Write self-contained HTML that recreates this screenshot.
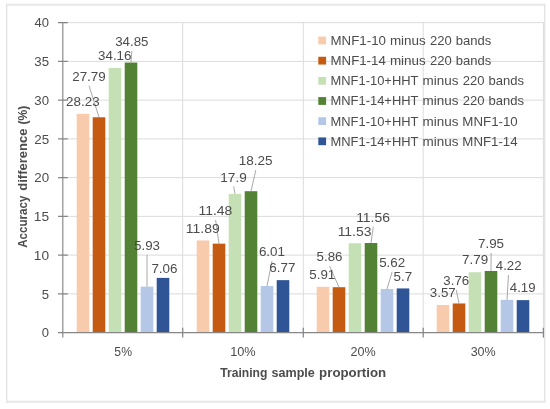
<!DOCTYPE html>
<html><head><meta charset="utf-8"><title>Accuracy difference chart</title>
<style>html,body{margin:0;padding:0;background:#fff}svg{display:block}</style></head>
<body>
<svg width="550" height="409" viewBox="0 0 550 409" font-family="'Liberation Sans', Arial, sans-serif" font-size="13" fill="#4c4c4c">
<rect x="0" y="0" width="550" height="409" fill="#fff"/>
<path d="M6.65 3.8V402.75M544.7 3.8V402.75" stroke="#e3e3e3" stroke-width="1.4" fill="none"/>
<path d="M5.95 4.8H545.4M5.95 401.75H545.4" stroke="#e8e8e8" stroke-width="2" fill="none"/>
<line x1="63.00" y1="22.65" x2="543.4" y2="22.65" stroke="#dcdcdc" stroke-width="1"/>
<line x1="63.00" y1="61.39" x2="543.4" y2="61.39" stroke="#dcdcdc" stroke-width="1"/>
<line x1="63.00" y1="100.14" x2="543.4" y2="100.14" stroke="#dcdcdc" stroke-width="1"/>
<line x1="63.00" y1="138.88" x2="543.4" y2="138.88" stroke="#dcdcdc" stroke-width="1"/>
<line x1="63.00" y1="177.63" x2="543.4" y2="177.63" stroke="#dcdcdc" stroke-width="1"/>
<line x1="63.00" y1="216.37" x2="543.4" y2="216.37" stroke="#dcdcdc" stroke-width="1"/>
<line x1="63.00" y1="255.11" x2="543.4" y2="255.11" stroke="#dcdcdc" stroke-width="1"/>
<line x1="63.00" y1="293.86" x2="543.4" y2="293.86" stroke="#dcdcdc" stroke-width="1"/>
<line x1="182.70" y1="22.15" x2="182.70" y2="332.60" stroke="#dcdcdc" stroke-width="1"/>
<line x1="303.30" y1="22.15" x2="303.30" y2="332.60" stroke="#dcdcdc" stroke-width="1"/>
<line x1="423.20" y1="22.15" x2="423.20" y2="332.60" stroke="#dcdcdc" stroke-width="1"/>
<line x1="543.40" y1="22.15" x2="543.40" y2="332.60" stroke="#dcdcdc" stroke-width="1"/>
<rect x="76.70" y="113.85" width="12.60" height="218.75" fill="#F8CBAD"/>
<rect x="92.70" y="117.26" width="12.60" height="215.34" fill="#C55A11"/>
<rect x="108.70" y="67.90" width="12.60" height="264.70" fill="#C5E0B4"/>
<rect x="124.70" y="62.56" width="12.60" height="270.04" fill="#548235"/>
<rect x="140.70" y="286.65" width="12.60" height="45.95" fill="#B4C7E7"/>
<rect x="156.70" y="277.89" width="12.60" height="54.71" fill="#2F5597"/>
<rect x="196.70" y="240.47" width="12.60" height="92.13" fill="#F8CBAD"/>
<rect x="212.70" y="243.64" width="12.60" height="88.96" fill="#C55A11"/>
<rect x="228.70" y="193.90" width="12.60" height="138.70" fill="#C5E0B4"/>
<rect x="244.70" y="191.19" width="12.60" height="141.41" fill="#548235"/>
<rect x="260.70" y="286.03" width="12.60" height="46.57" fill="#B4C7E7"/>
<rect x="276.70" y="280.14" width="12.60" height="52.46" fill="#2F5597"/>
<rect x="316.70" y="286.80" width="12.60" height="45.80" fill="#F8CBAD"/>
<rect x="332.70" y="287.19" width="12.60" height="45.41" fill="#C55A11"/>
<rect x="348.70" y="243.26" width="12.60" height="89.34" fill="#C5E0B4"/>
<rect x="364.70" y="243.02" width="12.60" height="89.58" fill="#548235"/>
<rect x="380.70" y="289.05" width="12.60" height="43.55" fill="#B4C7E7"/>
<rect x="396.70" y="288.43" width="12.60" height="44.17" fill="#2F5597"/>
<rect x="436.70" y="304.94" width="12.60" height="27.66" fill="#F8CBAD"/>
<rect x="452.70" y="303.46" width="12.60" height="29.14" fill="#C55A11"/>
<rect x="468.70" y="272.24" width="12.60" height="60.36" fill="#C5E0B4"/>
<rect x="484.70" y="271.00" width="12.60" height="61.60" fill="#548235"/>
<rect x="500.70" y="299.90" width="12.60" height="32.70" fill="#B4C7E7"/>
<rect x="516.70" y="300.13" width="12.60" height="32.47" fill="#2F5597"/>
<line x1="62.8" y1="22.15" x2="62.8" y2="337.60" stroke="#868686" stroke-width="1.15"/>
<line x1="58" y1="332.60" x2="543.4" y2="332.60" stroke="#868686" stroke-width="1.25"/>
<line x1="58" y1="22.65" x2="67.8" y2="22.65" stroke="#868686" stroke-width="1.25"/>
<line x1="58" y1="61.39" x2="67.8" y2="61.39" stroke="#868686" stroke-width="1.25"/>
<line x1="58" y1="100.14" x2="67.8" y2="100.14" stroke="#868686" stroke-width="1.25"/>
<line x1="58" y1="138.88" x2="67.8" y2="138.88" stroke="#868686" stroke-width="1.25"/>
<line x1="58" y1="177.63" x2="67.8" y2="177.63" stroke="#868686" stroke-width="1.25"/>
<line x1="58" y1="216.37" x2="67.8" y2="216.37" stroke="#868686" stroke-width="1.25"/>
<line x1="58" y1="255.11" x2="67.8" y2="255.11" stroke="#868686" stroke-width="1.25"/>
<line x1="58" y1="293.86" x2="67.8" y2="293.86" stroke="#868686" stroke-width="1.25"/>
<line x1="182.70" y1="327.80" x2="182.70" y2="337.60" stroke="#868686" stroke-width="1.25"/>
<line x1="303.30" y1="327.80" x2="303.30" y2="337.60" stroke="#868686" stroke-width="1.25"/>
<line x1="423.20" y1="327.80" x2="423.20" y2="337.60" stroke="#868686" stroke-width="1.25"/>
<line x1="543.40" y1="327.80" x2="543.40" y2="337.60" stroke="#868686" stroke-width="1.25"/>
<text x="34.58" y="27.30" textLength="14.47" lengthAdjust="spacingAndGlyphs">40</text>
<text x="34.38" y="66.04" textLength="14.73" lengthAdjust="spacingAndGlyphs">35</text>
<text x="34.38" y="104.79" textLength="14.69" lengthAdjust="spacingAndGlyphs">30</text>
<text x="34.21" y="143.53" textLength="14.90" lengthAdjust="spacingAndGlyphs">25</text>
<text x="34.21" y="182.28" textLength="14.86" lengthAdjust="spacingAndGlyphs">20</text>
<text x="33.84" y="221.02" textLength="15.29" lengthAdjust="spacingAndGlyphs">15</text>
<text x="33.84" y="259.76" textLength="15.25" lengthAdjust="spacingAndGlyphs">10</text>
<text x="41.79" y="298.51" textLength="7.31" lengthAdjust="spacingAndGlyphs">5</text>
<text x="41.81" y="337.25" textLength="7.25" lengthAdjust="spacingAndGlyphs">0</text>
<text x="114.35" y="356.40" textLength="17.64" lengthAdjust="spacingAndGlyphs">5%</text>
<text x="230.15" y="356.40" textLength="25.58" lengthAdjust="spacingAndGlyphs">10%</text>
<text x="350.49" y="356.40" textLength="25.23" lengthAdjust="spacingAndGlyphs">20%</text>
<text x="470.65" y="356.40" textLength="25.07" lengthAdjust="spacingAndGlyphs">30%</text>
<text x="220.27" y="377.40" textLength="47.13" lengthAdjust="spacingAndGlyphs" font-weight="bold">Training</text>
<text x="271.56" y="377.40" textLength="43.27" lengthAdjust="spacingAndGlyphs" font-weight="bold">sample</text>
<text x="319.12" y="377.40" textLength="67.10" lengthAdjust="spacingAndGlyphs" font-weight="bold">proportion</text>
<g transform="translate(27.0,0) rotate(-90)">
<text x="-247.79" y="0.00" textLength="52.15" lengthAdjust="spacingAndGlyphs" font-weight="bold">Accuracy</text>
<text x="-190.73" y="0.00" textLength="62.18" lengthAdjust="spacingAndGlyphs" font-weight="bold">difference</text>
<text x="-124.50" y="0.00" textLength="18.70" lengthAdjust="spacingAndGlyphs" font-weight="bold">(%)</text>
</g>
<rect x="318.3" y="36.60" width="7.8" height="7.8" fill="#F8CBAD"/>
<text x="330.51" y="45.00" textLength="55.45" lengthAdjust="spacingAndGlyphs">MNF1-10</text>
<text x="389.91" y="45.00" textLength="35.91" lengthAdjust="spacingAndGlyphs">minus</text>
<text x="430.04" y="45.00" textLength="21.77" lengthAdjust="spacingAndGlyphs">220</text>
<text x="455.83" y="45.00" textLength="35.49" lengthAdjust="spacingAndGlyphs">bands</text>
<rect x="318.3" y="56.76" width="7.8" height="7.8" fill="#C55A11"/>
<text x="330.51" y="65.16" textLength="55.31" lengthAdjust="spacingAndGlyphs">MNF1-14</text>
<text x="389.91" y="65.16" textLength="35.91" lengthAdjust="spacingAndGlyphs">minus</text>
<text x="430.04" y="65.16" textLength="21.77" lengthAdjust="spacingAndGlyphs">220</text>
<text x="455.83" y="65.16" textLength="35.49" lengthAdjust="spacingAndGlyphs">bands</text>
<rect x="318.3" y="76.92" width="7.8" height="7.8" fill="#C5E0B4"/>
<text x="330.54" y="85.32" textLength="87.92" lengthAdjust="spacingAndGlyphs">MNF1-10+HHT</text>
<text x="422.64" y="85.32" textLength="35.91" lengthAdjust="spacingAndGlyphs">minus</text>
<text x="462.77" y="85.32" textLength="21.77" lengthAdjust="spacingAndGlyphs">220</text>
<text x="488.55" y="85.32" textLength="35.49" lengthAdjust="spacingAndGlyphs">bands</text>
<rect x="318.3" y="97.08" width="7.8" height="7.8" fill="#548235"/>
<text x="330.54" y="105.48" textLength="87.92" lengthAdjust="spacingAndGlyphs">MNF1-14+HHT</text>
<text x="422.64" y="105.48" textLength="35.91" lengthAdjust="spacingAndGlyphs">minus</text>
<text x="462.77" y="105.48" textLength="21.77" lengthAdjust="spacingAndGlyphs">220</text>
<text x="488.55" y="105.48" textLength="35.49" lengthAdjust="spacingAndGlyphs">bands</text>
<rect x="318.3" y="117.24" width="7.8" height="7.8" fill="#B4C7E7"/>
<text x="330.54" y="125.64" textLength="87.92" lengthAdjust="spacingAndGlyphs">MNF1-10+HHT</text>
<text x="422.64" y="125.64" textLength="35.91" lengthAdjust="spacingAndGlyphs">minus</text>
<text x="462.33" y="125.64" textLength="55.45" lengthAdjust="spacingAndGlyphs">MNF1-10</text>
<rect x="318.3" y="137.40" width="7.8" height="7.8" fill="#2F5597"/>
<text x="330.54" y="145.80" textLength="87.92" lengthAdjust="spacingAndGlyphs">MNF1-14+HHT</text>
<text x="422.64" y="145.80" textLength="35.91" lengthAdjust="spacingAndGlyphs">minus</text>
<text x="462.34" y="145.80" textLength="55.31" lengthAdjust="spacingAndGlyphs">MNF1-14</text>
<line x1="89.00" y1="85.60" x2="99.00" y2="117.26" stroke="#939393" stroke-width="0.8"/>
<line x1="131.80" y1="51.00" x2="131.00" y2="62.56" stroke="#939393" stroke-width="0.8"/>
<line x1="147.00" y1="254.60" x2="147.00" y2="286.65" stroke="#939393" stroke-width="0.8"/>
<line x1="215.60" y1="220.00" x2="219.00" y2="243.64" stroke="#939393" stroke-width="0.8"/>
<line x1="233.70" y1="186.40" x2="235.00" y2="193.90" stroke="#939393" stroke-width="0.8"/>
<line x1="255.80" y1="170.00" x2="251.00" y2="191.19" stroke="#939393" stroke-width="0.8"/>
<line x1="272.00" y1="261.00" x2="267.00" y2="286.03" stroke="#939393" stroke-width="0.8"/>
<line x1="329.50" y1="266.00" x2="339.00" y2="287.19" stroke="#939393" stroke-width="0.8"/>
<line x1="373.30" y1="226.60" x2="371.00" y2="243.02" stroke="#939393" stroke-width="0.8"/>
<line x1="392.10" y1="271.80" x2="387.00" y2="289.05" stroke="#939393" stroke-width="0.8"/>
<line x1="456.30" y1="290.00" x2="459.00" y2="303.46" stroke="#939393" stroke-width="0.8"/>
<line x1="491.10" y1="253.00" x2="491.00" y2="271.00" stroke="#939393" stroke-width="0.8"/>
<line x1="508.50" y1="275.00" x2="507.00" y2="299.90" stroke="#939393" stroke-width="0.8"/>
<text x="66.11" y="106.40" textLength="33.50" lengthAdjust="spacingAndGlyphs">28.23</text>
<text x="72.21" y="80.75" textLength="33.54" lengthAdjust="spacingAndGlyphs">27.79</text>
<text x="98.08" y="59.55" textLength="33.33" lengthAdjust="spacingAndGlyphs">34.16</text>
<text x="115.18" y="46.15" textLength="33.30" lengthAdjust="spacingAndGlyphs">34.85</text>
<text x="134.07" y="249.75" textLength="25.92" lengthAdjust="spacingAndGlyphs">5.93</text>
<text x="151.41" y="272.75" textLength="26.08" lengthAdjust="spacingAndGlyphs">7.06</text>
<text x="185.85" y="232.75" textLength="33.91" lengthAdjust="spacingAndGlyphs">11.89</text>
<text x="198.45" y="215.15" textLength="33.85" lengthAdjust="spacingAndGlyphs">11.48</text>
<text x="220.26" y="181.55" textLength="26.48" lengthAdjust="spacingAndGlyphs">17.9</text>
<text x="238.65" y="165.15" textLength="33.83" lengthAdjust="spacingAndGlyphs">18.25</text>
<text x="258.92" y="256.15" textLength="26.14" lengthAdjust="spacingAndGlyphs">6.01</text>
<text x="269.22" y="272.15" textLength="26.16" lengthAdjust="spacingAndGlyphs">6.77</text>
<text x="309.26" y="279.15" textLength="25.99" lengthAdjust="spacingAndGlyphs">5.91</text>
<text x="316.57" y="261.15" textLength="25.92" lengthAdjust="spacingAndGlyphs">5.86</text>
<text x="337.65" y="236.15" textLength="33.86" lengthAdjust="spacingAndGlyphs">11.53</text>
<text x="356.15" y="221.75" textLength="33.86" lengthAdjust="spacingAndGlyphs">11.56</text>
<text x="379.16" y="266.95" textLength="26.01" lengthAdjust="spacingAndGlyphs">5.62</text>
<text x="393.58" y="280.75" textLength="18.58" lengthAdjust="spacingAndGlyphs">5.7</text>
<text x="429.79" y="297.15" textLength="25.98" lengthAdjust="spacingAndGlyphs">3.57</text>
<text x="443.39" y="285.15" textLength="25.89" lengthAdjust="spacingAndGlyphs">3.76</text>
<text x="462.01" y="264.15" textLength="26.13" lengthAdjust="spacingAndGlyphs">7.79</text>
<text x="478.01" y="248.15" textLength="26.05" lengthAdjust="spacingAndGlyphs">7.95</text>
<text x="495.80" y="270.15" textLength="25.77" lengthAdjust="spacingAndGlyphs">4.22</text>
<text x="509.80" y="292.15" textLength="25.73" lengthAdjust="spacingAndGlyphs">4.19</text>
</svg>
</body></html>
